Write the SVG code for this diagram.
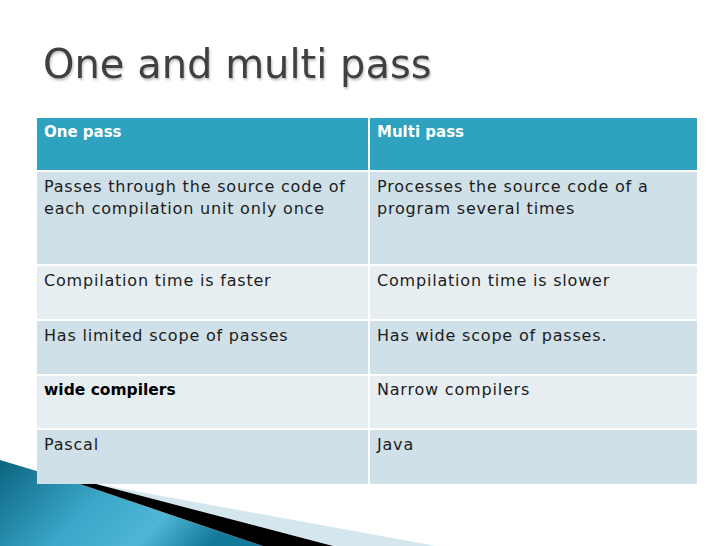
<svg xmlns="http://www.w3.org/2000/svg" width="728" height="546" viewBox="0 0 728 546">
<defs>
<linearGradient id="teal" x1="0" y1="0" x2="1" y2="0.3">
<stop offset="0" stop-color="#0b6480"/>
<stop offset="0.45" stop-color="#3aa6c8"/>
<stop offset="0.75" stop-color="#4fb6d6"/>
<stop offset="1" stop-color="#137a9b"/>
</linearGradient>
<filter id="shadow" x="-5%" y="-20%" width="110%" height="150%">
<feDropShadow dx="1" dy="2" stdDeviation="1" flood-color="#000000" flood-opacity="0.25"/>
</filter>
<style>
.t{font-family:"DejaVu Sans",Verdana,sans-serif;font-size:16px;letter-spacing:0.8px;fill:#1c1c1c}
.h{font-family:"DejaVu Sans",Verdana,sans-serif;font-size:15px;font-weight:bold;fill:#ffffff}
.b{font-family:"DejaVu Sans",Verdana,sans-serif;font-size:15.5px;font-weight:bold;fill:#000000}
.odd{fill:#cfe0e8}
.even{fill:#e7eef2}
.sep{stroke:#ffffff;stroke-width:2}
</style>
</defs>
<rect width="728" height="546" fill="#ffffff"/>
<g id="decoration">
<polygon points="0,460 80,484 263,546 0,546" fill="url(#teal)"/>
<polygon points="96,484 436,546 333,546" fill="#d4e7ee"/>
<polygon points="80,484 96,484 333,546 263,546" fill="#000000"/>
</g>
<g id="title">
<text x="43" y="78" font-family="DejaVu Sans,Verdana,sans-serif" font-size="40" fill="#404040" filter="url(#shadow)">One and multi pass</text>
</g>
<g id="header">
<rect x="37" y="118" width="660" height="53" fill="#2ea2bf"/>
<text class="h" x="44" y="137">One pass</text>
<text class="h" x="377" y="137">Multi pass</text>
</g>
<g id="row1">
<rect class="odd" x="37" y="171" width="660" height="94"/>
<text class="t" x="44" y="192">Passes through the source code of</text>
<text class="t" x="44" y="214">each compilation unit only once</text>
<text class="t" x="377" y="192">Processes the source code of a</text>
<text class="t" x="377" y="214">program several times</text>
</g>
<g id="row2">
<rect class="even" x="37" y="265" width="660" height="55"/>
<text class="t" x="44" y="286">Compilation time is faster</text>
<text class="t" x="377" y="286">Compilation time is slower</text>
</g>
<g id="row3">
<rect class="odd" x="37" y="320" width="660" height="55"/>
<text class="t" x="44" y="341">Has limited scope of passes</text>
<text class="t" x="377" y="341">Has wide scope of passes.</text>
</g>
<g id="row4">
<rect class="even" x="37" y="375" width="660" height="54"/>
<text class="b" x="44" y="395">wide compilers</text>
<text class="t" x="377" y="395">Narrow compilers</text>
</g>
<g id="row5">
<rect class="odd" x="37" y="429" width="660" height="55"/>
<text class="t" x="44" y="450">Pascal</text>
<text class="t" x="377" y="450">Java</text>
</g>
<g id="gridlines">
<line class="sep" x1="369" y1="118" x2="369" y2="484"/>
<line class="sep" x1="37" y1="171" x2="697" y2="171"/>
<line class="sep" x1="37" y1="265" x2="697" y2="265"/>
<line class="sep" x1="37" y1="320" x2="697" y2="320"/>
<line class="sep" x1="37" y1="375" x2="697" y2="375"/>
<line class="sep" x1="37" y1="429" x2="697" y2="429"/>
</g>
</svg>
